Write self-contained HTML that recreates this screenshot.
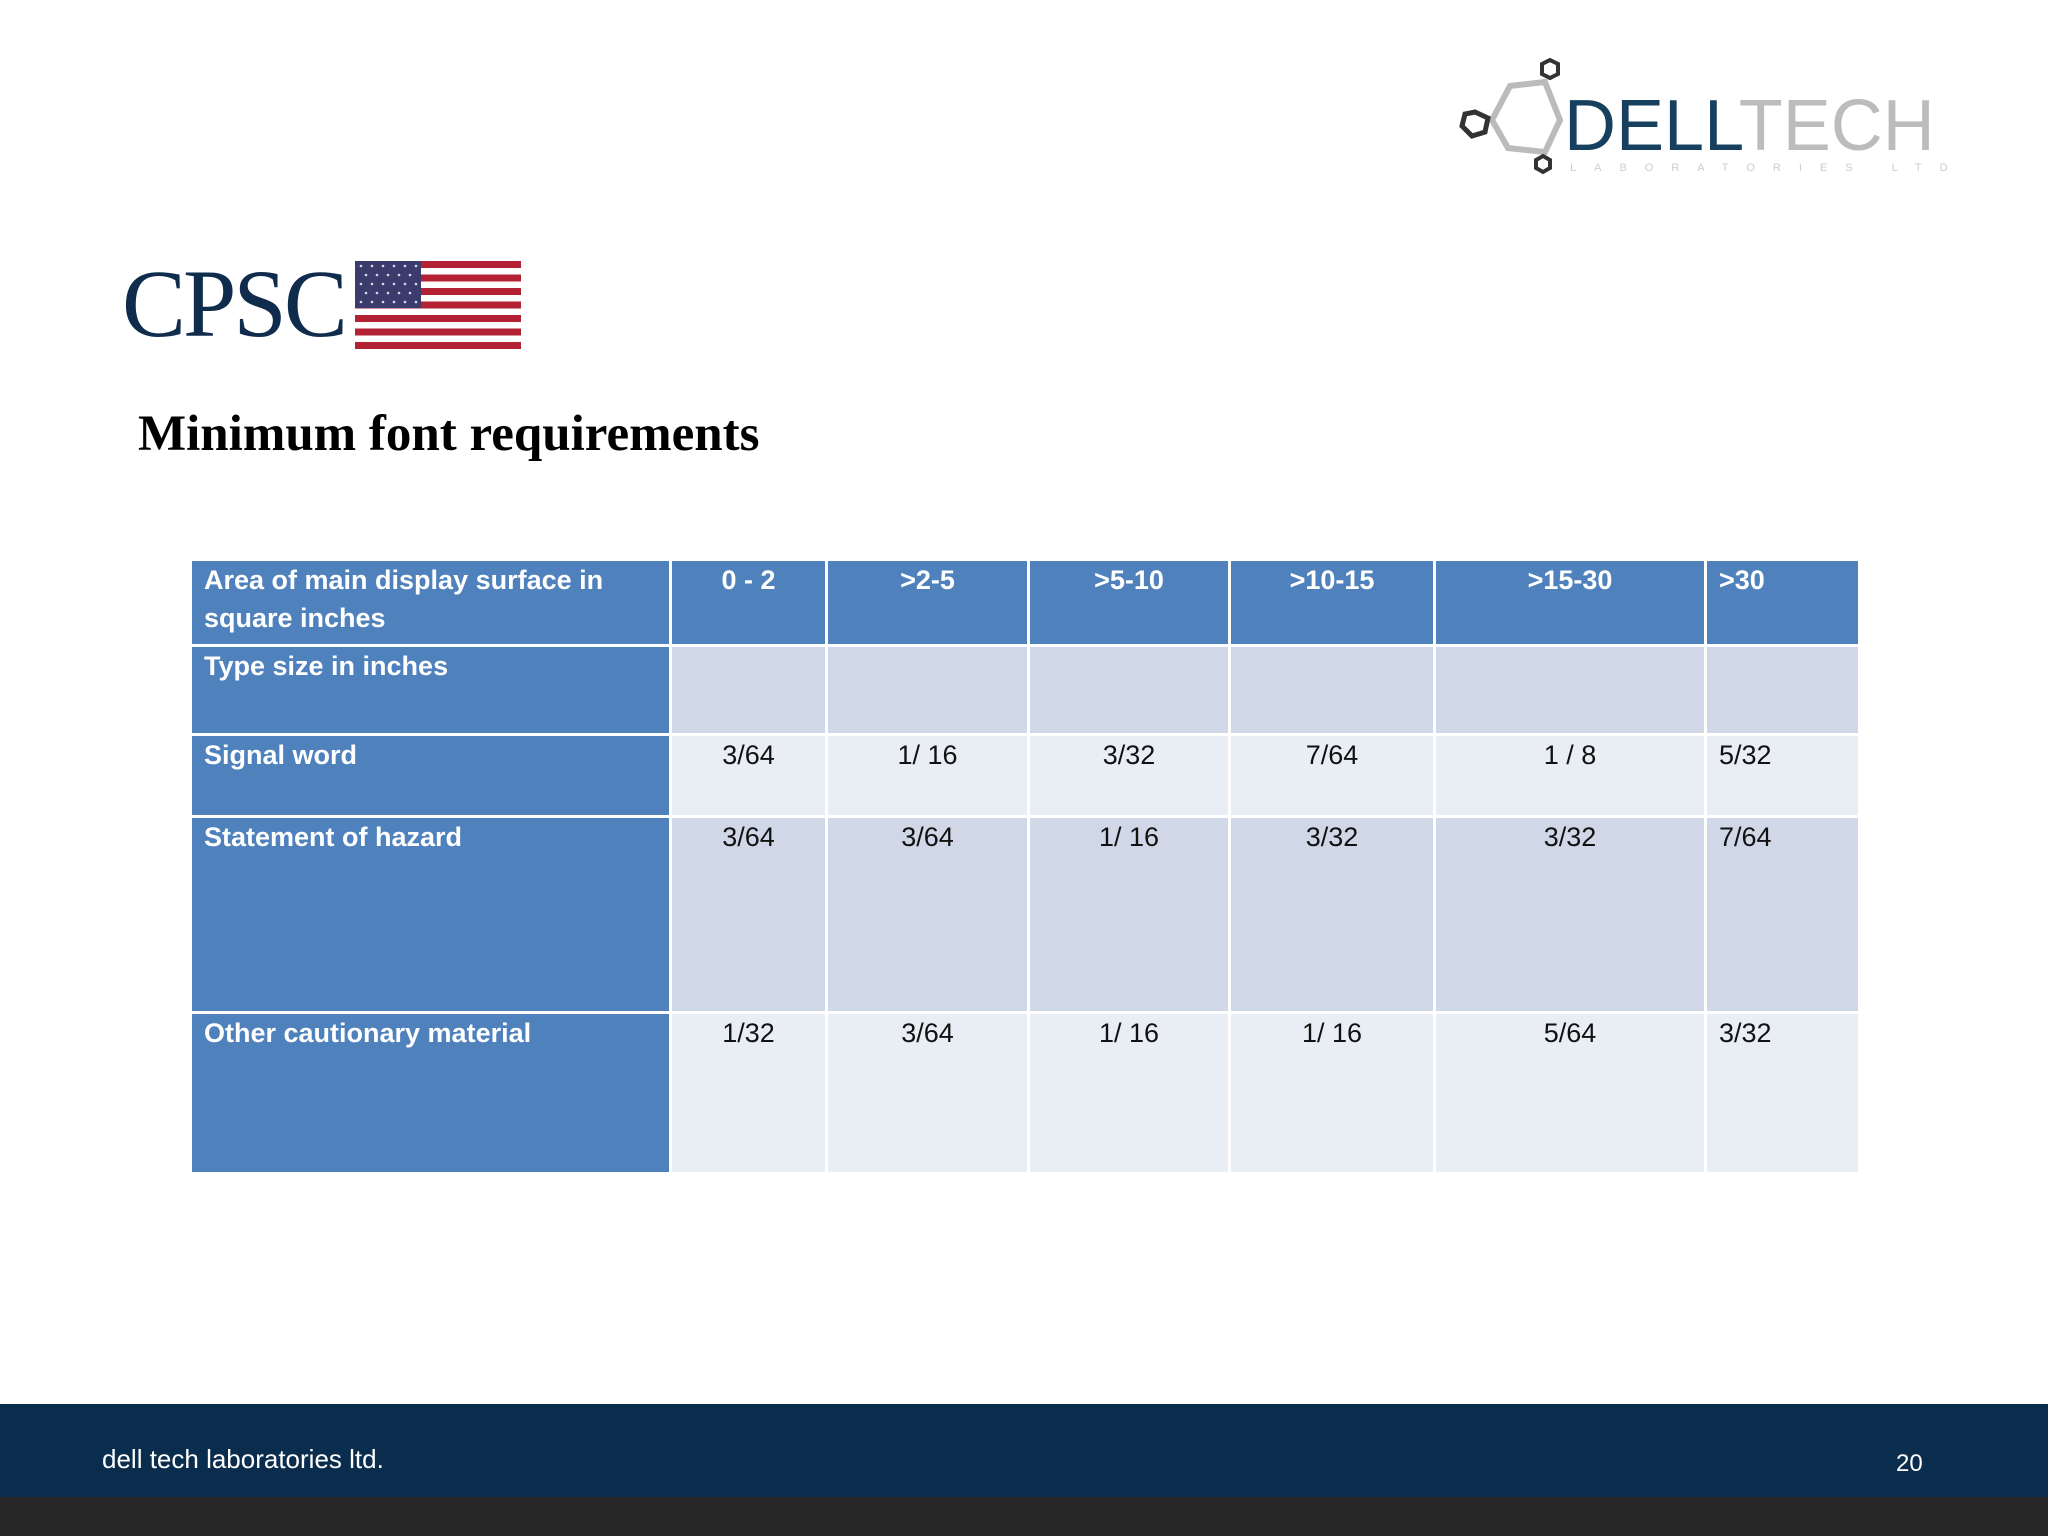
<!DOCTYPE html>
<html><head><meta charset="utf-8"><style>
body{margin:0;width:2048px;height:1536px;position:relative;background:#fff;font-family:"Liberation Sans",sans-serif;overflow:hidden}
.abs{position:absolute}
table{position:absolute;left:189px;top:558px;border-collapse:collapse;table-layout:fixed}
td{border:3px solid #fff;vertical-align:top;padding:0px 12px 4px;font-size:27px;line-height:38px;color:#111;text-align:center}
tr.r2 td{background:#d0d8e8}
tr.r3 td{background:#e9edf4}
tr.hd td{background:#4f81bd;color:#fff;font-weight:bold}
tr td.h{background:#4f81bd;color:#fff;font-weight:bold;text-align:left}
</style></head><body>
<div class="abs" style="left:1450px;top:50px;width:520px;height:130px">
<svg width="520" height="130">
<polygon points="60,36 95,32 110,70 95,102 58,98 42,70" fill="none" stroke="#bbb" stroke-width="6"/>
<polygon points="25,62 38,68 35,82 22,86 12,76 15,64" fill="none" stroke="#333" stroke-width="5"/>
<polygon points="100,10 108,14 108,24 100,28 92,24 92,14" fill="none" stroke="#333" stroke-width="4"/>
<polygon points="93,106 100,110 100,118 93,122 86,118 86,110" fill="none" stroke="#333" stroke-width="4"/>
</svg>
<div class="abs" style="left:114px;top:40px;font-size:72px;line-height:72px;white-space:nowrap"><span style="color:#17405f">DELL</span><span style="color:#bcbcbc">TECH</span></div>
<div class="abs" style="left:120px;top:112px;font-size:11px;letter-spacing:18px;color:#ccc;white-space:nowrap">LABORATORIES LTD</div>
</div>
<div class="abs" style="left:122px;top:256px;font-family:'Liberation Serif',serif;font-size:96px;line-height:96px;letter-spacing:-3px;color:#0f2c4c">CPSC</div>
<svg class="abs" style="left:355px;top:261px" width="166" height="88">
<rect width="166" height="88" fill="#fff"/>
<g fill="#b22234"><rect y="0" width="166" height="7"/><rect y="13.5" width="166" height="7"/><rect y="27" width="166" height="7"/><rect y="40.5" width="166" height="7"/><rect y="54" width="166" height="7"/><rect y="67.5" width="166" height="7"/><rect y="81" width="166" height="7"/></g>
<rect width="66" height="47" fill="#3c3b6e"/>
<g fill="#fff" opacity="0.8">
<circle cx="6" cy="5" r="1.3"/><circle cx="17" cy="5" r="1.3"/><circle cx="28" cy="5" r="1.3"/><circle cx="39" cy="5" r="1.3"/><circle cx="50" cy="5" r="1.3"/><circle cx="61" cy="5" r="1.3"/>
<circle cx="11" cy="14" r="1.3"/><circle cx="22" cy="14" r="1.3"/><circle cx="33" cy="14" r="1.3"/><circle cx="44" cy="14" r="1.3"/><circle cx="55" cy="14" r="1.3"/>
<circle cx="6" cy="23" r="1.3"/><circle cx="17" cy="23" r="1.3"/><circle cx="28" cy="23" r="1.3"/><circle cx="39" cy="23" r="1.3"/><circle cx="50" cy="23" r="1.3"/><circle cx="61" cy="23" r="1.3"/>
<circle cx="11" cy="32" r="1.3"/><circle cx="22" cy="32" r="1.3"/><circle cx="33" cy="32" r="1.3"/><circle cx="44" cy="32" r="1.3"/><circle cx="55" cy="32" r="1.3"/>
<circle cx="6" cy="41" r="1.3"/><circle cx="17" cy="41" r="1.3"/><circle cx="28" cy="41" r="1.3"/><circle cx="39" cy="41" r="1.3"/><circle cx="50" cy="41" r="1.3"/><circle cx="61" cy="41" r="1.3"/>
</g>
</svg>
<div class="abs" style="left:138px;top:404px;font-family:'Liberation Serif',serif;font-weight:bold;font-size:51px;line-height:60px;color:#000">Minimum font requirements</div>
<table>
<colgroup><col style="width:480px"><col style="width:156px"><col style="width:202px"><col style="width:201px"><col style="width:205px"><col style="width:271px"><col style="width:154px"></colgroup>
<tr class="hd" style="height:86px"><td class="h">Area of main display surface in square inches</td><td>0 - 2</td><td>&gt;2-5</td><td>&gt;5-10</td><td>&gt;10-15</td><td>&gt;15-30</td><td style="text-align:left">&gt;30</td></tr>
<tr class="r2" style="height:89px"><td class="h">Type size in inches</td><td></td><td></td><td></td><td></td><td></td><td></td></tr>
<tr class="r3" style="height:82px"><td class="h">Signal word</td><td>3/64</td><td>1/ 16</td><td>3/32</td><td>7/64</td><td>1 / 8</td><td style="text-align:left">5/32</td></tr>
<tr class="r2" style="height:196px"><td class="h">Statement of hazard</td><td>3/64</td><td>3/64</td><td>1/ 16</td><td>3/32</td><td>3/32</td><td style="text-align:left">7/64</td></tr>
<tr class="r3" style="height:161px"><td class="h">Other cautionary material</td><td>1/32</td><td>3/64</td><td>1/ 16</td><td>1/ 16</td><td>5/64</td><td style="text-align:left">3/32</td></tr>
</table>
<div class="abs" style="left:0;top:1404px;width:2048px;height:93px;background:#0b2d4d"></div>
<div class="abs" style="left:0;top:1497px;width:2048px;height:39px;background:#262626"></div>
<div class="abs" style="left:102px;top:1444px;font-size:26px;color:#fff">dell tech laboratories ltd.</div>
<div class="abs" style="left:1896px;top:1450px;font-size:24px;color:#fff">20</div>
</body></html>
